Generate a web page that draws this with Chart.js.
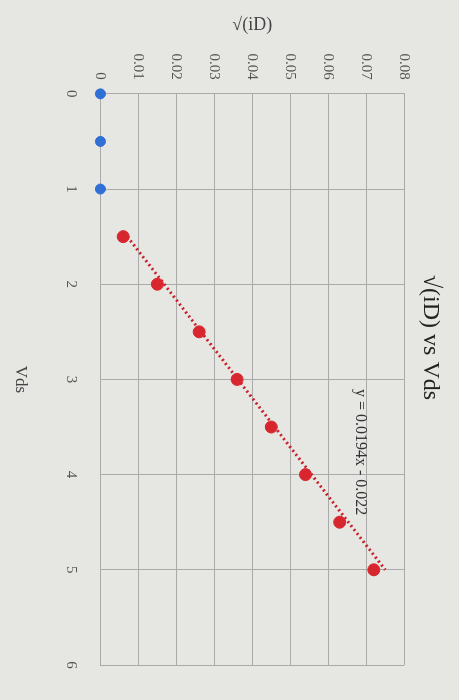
<!DOCTYPE html><html><head><script src="https://cdn.jsdelivr.net/npm/chart.js@4"></script>
<style>body{margin:0;background:#e6e6e3;overflow:hidden}#w{position:absolute;left:459px;top:0;width:700px;height:459px;transform-origin:0 0;transform:rotate(90deg)}</style></head><body>
<div id="w"><canvas id="c" width="700" height="459"></canvas></div>
<script>
const offX=[0,0.5,1];
const offY=[0,0,0];
const onX=[1.5,2,2.5,3,3.5,4,4.5,5];
const onY=[0.006,0.015,0.026,0.036,0.045,0.054,0.063,0.072];
const slope=0.0194, intercept=-0.022;
const xTicks=[0,1,2,3,4,5,6];
const eq='y = 0.0194x - 0.022';
const trend=[{x:1.5,y:slope*1.5+intercept},{x:5,y:slope*5+intercept}];
const eqPlugin={id:'eq',afterDatasetsDraw(ch){const c=ch.ctx,x=ch.scales.x,y=ch.scales.y;c.save();c.font='16px "Liberation Serif"';c.fillStyle='#333';c.textBaseline='middle';c.fillText(eq,x.getPixelForValue(3.1),y.getPixelForValue(0.0685));c.restore();}};
new Chart(document.getElementById('c'),{type:'scatter',
data:{datasets:[
{data:offX.map((v,i)=>({x:v,y:offY[i]})),backgroundColor:'#2f6fd6',borderColor:'#2f6fd6',pointRadius:5,clip:false},
{data:onX.map((v,i)=>({x:v,y:onY[i]})),backgroundColor:'#d8262e',borderColor:'#d8262e',pointRadius:6,clip:false},
{type:'line',data:trend,borderColor:'#c8202a',borderWidth:3,borderDash:[2,3],pointRadius:0,fill:false}]},
options:{responsive:false,animation:false,plugins:{legend:{display:false},
title:{display:true,text:'√(iD) vs Vds',font:{family:'Liberation Serif',size:24,weight:'normal'},color:'#222',padding:{top:14,bottom:12}}},
layout:{padding:{left:10,right:35,bottom:6}},
scales:{x:{type:'linear',min:0,max:6,afterBuildTicks(a){a.ticks=xTicks.map(v=>({value:v}));},ticks:{color:'#555',font:{family:'Liberation Serif',size:15},padding:20},grid:{color:'#aaa',drawTicks:false},border:{color:'#aaa'},
title:{display:true,text:'Vds',color:'#444',font:{family:'Liberation Serif',size:17},padding:{top:12}}},
y:{min:0,max:0.08,ticks:{stepSize:0.01,color:'#555',font:{family:'Liberation Serif',size:15},padding:14},grid:{color:'#aaa',drawTicks:false},border:{color:'#aaa'},
title:{display:true,text:'√(iD)',color:'#444',font:{family:'Liberation Serif',size:18}}}}},
plugins:[eqPlugin]});
</script></body></html>
